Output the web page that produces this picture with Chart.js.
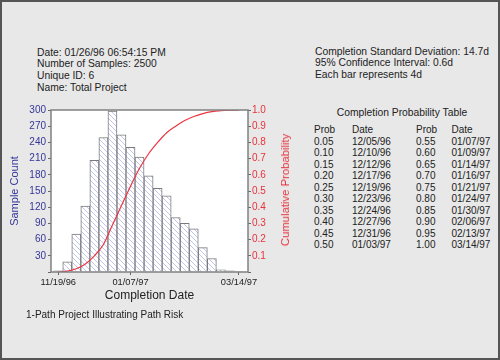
<!DOCTYPE html>
<html>
<head>
<meta charset="utf-8">
<script src="https://cdn.jsdelivr.net/npm/chart.js@4.4.1/dist/chart.umd.min.js"></script>
<style>
  html, body { margin: 0; padding: 0; }
  body { width: 500px; height: 360px; overflow: hidden; font-family: "Liberation Sans", Arial, sans-serif; color: #222; }
  #page { position: relative; width: 500px; height: 360px; background: #e8e8e8; }
  #edge { position: absolute; left: 0; top: 0; width: 500px; height: 360px; box-sizing: border-box; border: 2px solid #555; pointer-events: none; }
  .txt { position: absolute; white-space: nowrap; }
  .info { font-size: 10.3px; line-height: 11.7px; }
  .tbl { font-size: 10px; line-height: 11.5px; }
  #chartBox { position: absolute; left: 0; top: 100px; width: 300px; height: 210px; }
  #rightTitle { position: absolute; left: 285px; top: 190px; font-size: 11.3px; color: #e8323c; white-space: nowrap; transform: translate(-50%, -50%) rotate(-90deg); }
</style>
</head>
<body>
<div id="page">
  <div class="txt info" style="left:37px; top:46.6px;">Date: 01/26/96 06:54:15 PM<br>Number of Samples: 2500<br>Unique ID: 6<br>Name: Total Project</div>
  <div class="txt info" style="left:315px; top:45.8px; line-height:11.5px;">Completion Standard Deviation: 14.7d<br>95% Confidence Interval: 0.6d<br>Each bar represents 4d</div>
  <div class="txt info" style="left:302px; width:200px; top:107px; text-align:center;">Completion Probability Table</div>
  <div id="table"></div>
  <div id="chartBox"><canvas id="opdChart"></canvas></div>
  <div id="rightTitle">Cumulative Probability</div>
  <div class="txt tbl" style="left:26px; top:309.4px;">1-Path Project Illustrating Path Risk</div>
  <div id="edge"></div>
</div>
<script>
// histogram bins (bar index), sample counts, cumulative probability
var bins = [0, 1, 2, 3, 4, 5, 6, 7, 8, 9, 10, 11, 12, 13, 14, 15, 16, 17, 18, 19, 20];
var counts = [2, 19, 70, 122, 207, 249, 298, 254, 231, 213, 178, 155, 141, 101, 90, 80, 45, 25, 4, 2, 1];
var cumulative = [0.0, 0.005, 0.02, 0.05, 0.10, 0.17, 0.29, 0.41, 0.53, 0.64, 0.73, 0.80, 0.86, 0.90, 0.935, 0.96, 0.978, 0.99, 0.996, 0.999, 1.0];
var tickBins = [0, 8, 20];
var tickLabels = ['11/19/96', '01/07/97', '03/14/97'];

// completion probability table
var probA = ['0.05', '0.10', '0.15', '0.20', '0.25', '0.30', '0.35', '0.40', '0.45', '0.50'];
var dateA = ['12/05/96', '12/10/96', '12/12/96', '12/17/96', '12/19/96', '12/23/96', '12/24/96', '12/27/96', '12/31/96', '01/03/97'];
var probB = ['0.55', '0.60', '0.65', '0.70', '0.75', '0.80', '0.85', '0.90', '0.95', '1.00'];
var dateB = ['01/07/97', '01/09/97', '01/14/97', '01/16/97', '01/21/97', '01/24/97', '01/30/97', '02/06/97', '02/13/97', '03/14/97'];

(function () {
  var cols = [['Prob', probA, 314], ['Date', dateA, 352], ['Prob', probB, 416], ['Date', dateB, 451.5]];
  var box = document.getElementById('table');
  cols.forEach(function (c) {
    var d = document.createElement('div');
    d.className = 'txt tbl';
    d.style.left = c[2] + 'px';
    d.style.top = '124.4px';
    d.innerHTML = [c[0]].concat(c[1]).join('<br>');
    box.appendChild(d);
  });

  Chart.defaults.font.family = '"Liberation Sans", Arial, sans-serif';

  var canvas = document.getElementById('opdChart');
  var ctx = canvas.getContext('2d');

  function hatch() {
    var s = 5, c = document.createElement('canvas');
    c.width = s; c.height = s;
    var g = c.getContext('2d');
    g.fillStyle = '#fff';
    g.fillRect(0, 0, s, s);
    g.strokeStyle = '#c2c5ec';
    g.lineWidth = 1;
    g.beginPath();
    [-s, 0, s].forEach(function (k) { g.moveTo(k, 0); g.lineTo(k + s, s); });
    g.stroke();
    return ctx.createPattern(c, 'repeat');
  }

  var plotFrame = {
    id: 'plotFrame',
    beforeDraw: function (chart) {
      var a = chart.chartArea, c = chart.ctx;
      c.save();
      c.fillStyle = '#fff';
      c.fillRect(a.left, a.top, a.right - a.left, a.bottom - a.top);
      c.restore();
    },
    afterDatasetsDraw: function (chart) {
      var a = chart.chartArea, c = chart.ctx;
      c.save();
      c.strokeStyle = '#808080';
      c.lineWidth = 1.5;
      c.strokeRect(a.left, a.top, a.right - a.left, a.bottom - a.top);
      c.restore();
    }
  };

  var barData = bins.map(function (b, i) { return { x: b, y: counts[i] }; });
  var cumData = bins.map(function (b, i) { return { x: b, y: cumulative[i] }; });

  new Chart(ctx, {
    data: {
      datasets: [
        { type: 'line', data: cumData, yAxisID: 'y2', borderColor: '#ec3540', borderWidth: 1.2,
          pointRadius: 0, cubicInterpolationMode: 'monotone', order: 0 },
        { type: 'bar', data: barData, yAxisID: 'y', backgroundColor: hatch(), borderColor: '#7a7a7a',
          borderWidth: 1, barPercentage: 1, categoryPercentage: 1, order: 1 }
      ]
    },
    options: {
      responsive: true,
      maintainAspectRatio: false,
      animation: false,
      layout: { padding: { top: 10, left: 0, right: 0, bottom: 0 } },
      plugins: { legend: { display: false }, tooltip: { enabled: false } },
      scales: {
        x: {
          type: 'linear', min: -0.8, max: 21, offset: false,
          afterBuildTicks: function (s) { s.ticks = tickBins.map(function (v) { return { value: v }; }); },
          afterFit: function (s) { s.height = 38; },
          ticks: {
            autoSkip: false, maxRotation: 0, padding: 2, color: '#222', font: { size: 9.3 },
            callback: function (v) { var i = tickBins.indexOf(v); return i < 0 ? '' : tickLabels[i]; }
          },
          grid: { offset: false, drawOnChartArea: false, tickLength: 3, color: '#666' },
          border: { display: false },
          title: { display: true, text: 'Completion Date', color: '#222', font: { size: 12 }, padding: { top: 0, bottom: 7 } }
        },
        y: {
          position: 'left', min: 0, max: 300,
          afterFit: function (s) { s.width = 51; },
          ticks: { stepSize: 30, padding: 2, color: '#35359a', font: { size: 10 },
            callback: function (v) { return v === 0 ? '' : v; } },
          grid: { drawOnChartArea: false, tickLength: 3, color: '#666' },
          border: { display: false },
          title: { display: true, text: 'Sample Count', color: '#35359a', font: { size: 11 }, padding: { top: 8, bottom: 0 } }
        },
        y2: {
          position: 'right', min: 0, max: 1,
          afterFit: function (s) { s.width = 52; },
          ticks: { stepSize: 0.1, padding: 1, color: '#e8323c', font: { size: 10 },
            callback: function (v) { return v < 0.05 ? '' : v.toFixed(1); } },
          grid: { drawOnChartArea: false, tickLength: 3, color: '#666' },
          border: { display: false }
        }
      }
    },
    plugins: [plotFrame]
  });
})();
</script>
</body>
</html>
